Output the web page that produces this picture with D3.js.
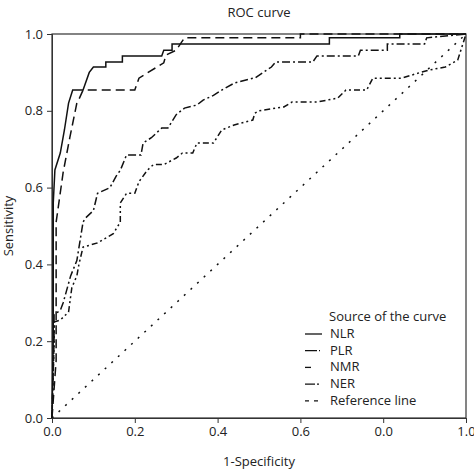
<!DOCTYPE html>
<html><head><meta charset="utf-8">
<script src="https://cdn.jsdelivr.net/npm/d3@7"></script>
<style>body{margin:0;background:#fff}text{font-family:"Open Sans",sans-serif;fill:#222}</style>
</head><body><svg id="c" width="474" height="474"></svg>
<script>
const seriesNames = ["NLR","PLR","NMR","NER"];
const xTickValues = [0,0.2,0.4,0.6,0.8,1.0];
const xTickLabels = ["0.0","0.2","0.4","0.6","0.0","1.0"];
const yTickValues = [0,0.2,0.4,0.6,0.8,1.0];
const nlrX = [0,0.003,0.003,0.007,0.02,0.03,0.04,0.05,0.075,0.09,0.1,0.13,0.13,0.17,0.17,0.265,0.27,0.29,0.29,0.67,0.67,0.84,0.84,1];
const nlrY = [0,0.2,0.56,0.646,0.69,0.75,0.82,0.854,0.854,0.9,0.914,0.914,0.927,0.927,0.943,0.943,0.958,0.958,0.974,0.974,0.99,0.99,1,1];
const plrX = [0,0.01,0.01,0.027,0.043,0.06,0.065,0.075,0.2,0.21,0.27,0.275,0.3,0.32,0.6,0.6,1];
const plrY = [0,0.15,0.51,0.64,0.73,0.82,0.83,0.854,0.854,0.885,0.925,0.945,0.958,0.99,0.99,1,1];
const nmrX = [0,0.005,0.005,0.02,0.027,0.045,0.06,0.075,0.08,0.1,0.11,0.14,0.155,0.165,0.18,0.215,0.22,0.24,0.265,0.28,0.3,0.32,0.35,0.365,0.39,0.41,0.44,0.485,0.49,0.51,0.53,0.54,0.63,0.64,0.74,0.745,0.81,0.81,0.9,0.905,1];
const nmrY = [0,0.2,0.27,0.28,0.3,0.37,0.41,0.51,0.52,0.54,0.585,0.6,0.63,0.645,0.685,0.685,0.716,0.73,0.755,0.755,0.79,0.807,0.815,0.828,0.84,0.854,0.872,0.885,0.885,0.9,0.914,0.927,0.927,0.943,0.943,0.958,0.958,0.974,0.974,0.99,1];
const nerX = [0,0.005,0.005,0.02,0.04,0.048,0.06,0.065,0.075,0.11,0.148,0.165,0.165,0.18,0.2,0.21,0.23,0.245,0.27,0.3,0.315,0.34,0.35,0.39,0.41,0.44,0.485,0.49,0.5,0.56,0.58,0.64,0.69,0.71,0.76,0.775,0.845,0.89,0.91,0.95,0.98,1];
const nerY = [0,0.2,0.25,0.255,0.276,0.34,0.37,0.4,0.445,0.456,0.48,0.51,0.56,0.585,0.585,0.615,0.645,0.66,0.66,0.677,0.69,0.69,0.716,0.716,0.75,0.763,0.776,0.794,0.8,0.81,0.823,0.823,0.833,0.854,0.854,0.885,0.885,0.9,0.906,0.914,0.932,1];
const refX = [0,1], refY = [0,1];

const svg = d3.select("#c");
const x = d3.scaleLinear().domain([0,1]).range([52,466]);
const y = d3.scaleLinear().domain([0,1]).range([418,34]);
// frame
svg.append("rect").attr("x",52).attr("y",34).attr("width",414).attr("height",384).attr("fill","none").attr("stroke","#333").attr("stroke-width",1.2);
const xa = svg.append("g").attr("transform","translate(0,418)").call(d3.axisBottom(x).tickValues(xTickValues).tickFormat((d,i)=>xTickLabels[i]).tickSize(5).tickPadding(4));
const ya = svg.append("g").attr("transform","translate(52,0)").call(d3.axisLeft(y).tickValues(yTickValues).tickFormat(d3.format(".1f")).tickSize(5).tickPadding(4));
[xa,ya].forEach(a=>{a.selectAll("text").attr("font-size",13).style("font-family","Open Sans");a.select(".domain").attr("stroke","#333");a.selectAll("line").attr("stroke","#333");});
svg.append("text").attr("x",259).attr("y",17).attr("text-anchor","middle").attr("font-size",13).text("ROC curve");
svg.append("text").attr("x",259).attr("y",466).attr("text-anchor","middle").attr("font-size",13).text("1-Specificity");
svg.append("text").attr("transform","translate(13,226) rotate(-90)").attr("text-anchor","middle").attr("font-size",13).text("Sensitivity");

const line = d3.line().x(d=>x(d[0])).y(d=>y(d[1]));
const series = [
 {xs:nlrX,ys:nlrY,dash:null},
 {xs:plrX,ys:plrY,dash:"9,5"},
 {xs:nmrX,ys:nmrY,dash:"8,3,2,3"},
 {xs:nerX,ys:nerY,dash:"6,3,2,3,2,3"},
 {xs:refX,ys:refY,dash:"2,7"}
];
series.forEach(s=>{
  svg.append("path").datum(s.xs.map((v,i)=>[v,s.ys[i]])).attr("d",line).attr("fill","none")
   .attr("stroke","#111").attr("stroke-width",1.5).attr("stroke-dasharray",s.dash);
});
// legend
const lg = svg.append("g");
lg.append("text").attr("x",329).attr("y",321).attr("font-size",13).text("Source of the curve");
const legNames = seriesNames.concat(["Reference line"]);
const legDash = [null,"12,2,1,2","6,20","10,2,2,20","4,5"];
legNames.forEach((n,i)=>{
  const yy = 338+i*16.7;
  lg.append("line").attr("x1",305).attr("x2",322).attr("y1",yy-4).attr("y2",yy-4).attr("stroke","#111").attr("stroke-width",1.3).attr("stroke-dasharray",legDash[i]);
  lg.append("text").attr("x",330).attr("y",yy).attr("font-size",13).text(n);
});
</script></body></html>
